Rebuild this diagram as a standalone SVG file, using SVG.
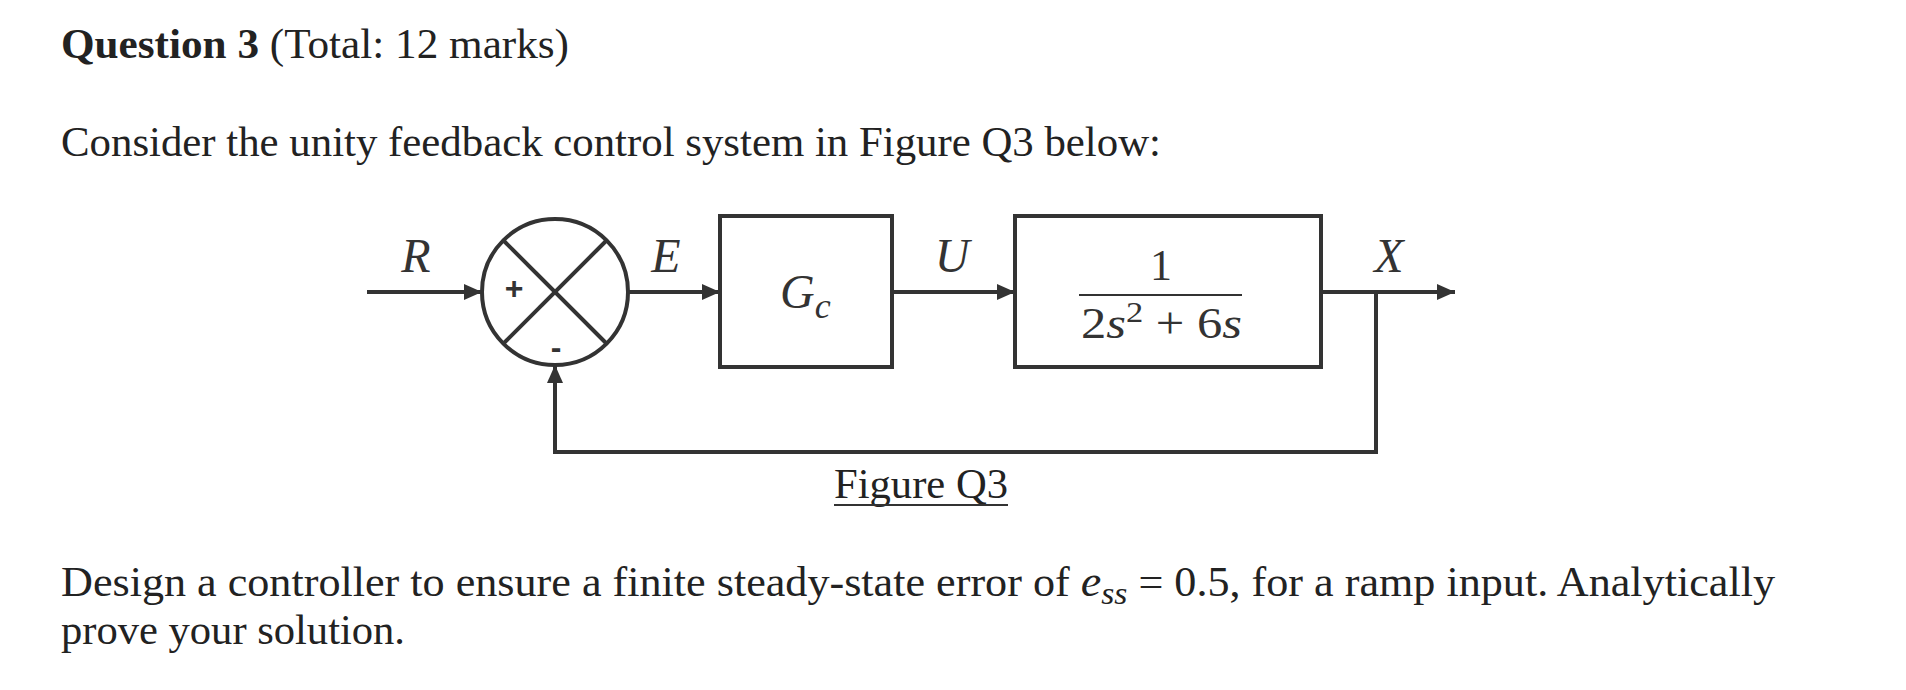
<svg xmlns="http://www.w3.org/2000/svg" width="1906" height="690" viewBox="0 0 1906 690">
<defs>
<style>
.t{font-family:"Liberation Serif",serif;font-size:42px;fill:#222}
.m{font-family:"Liberation Serif",serif;font-style:italic;font-size:48px;fill:#333}
.n{font-family:"Liberation Serif",serif;font-size:44px;fill:#333}
.ln{stroke:#333;stroke-width:4;fill:none}
</style>
<marker id="b" markerWidth="18" markerHeight="16" refX="18" refY="8" orient="auto" markerUnits="userSpaceOnUse"><path d="M0,0L18,8L0,16z" fill="#333"/></marker>
</defs>
<rect width="1906" height="690" fill="#fff"/>
<text class="t" x="61" y="58" textLength="508" lengthAdjust="spacingAndGlyphs"><tspan font-weight="bold">Question 3</tspan> (Total: 12 marks)</text>
<text class="t" x="61" y="156" textLength="1100" lengthAdjust="spacingAndGlyphs">Consider the unity feedback control system in Figure Q3 below:</text>
<g id="sum">
<circle cx="555" cy="292" r="73" class="ln"/>
<line x1="503" y1="240" x2="607" y2="344" class="ln"/>
<line x1="607" y1="240" x2="503" y2="344" class="ln"/>
<text x="514" y="299" font-family="Liberation Sans,sans-serif" font-weight="bold" font-size="32" fill="#333" text-anchor="middle">+</text>
<text x="556" y="358" font-family="Liberation Sans,sans-serif" font-weight="bold" font-size="32" fill="#333" text-anchor="middle">-</text>
</g>
<g id="gc">
<rect x="720" y="216" width="172" height="151" class="ln"/>
<text class="m" x="780" y="308">G<tspan font-size="36" dy="10">c</tspan></text>
</g>
<g id="plant">
<rect x="1015" y="216" width="306" height="151" class="ln"/>
<text class="n" x="1161" y="280" text-anchor="middle">1</text>
<line x1="1079" y1="295" x2="1242" y2="295" stroke="#333" stroke-width="2"/>
<text class="n" x="1081" y="338" textLength="161" lengthAdjust="spacingAndGlyphs">2<tspan font-style="italic">s</tspan><tspan font-size="30" dy="-16">2</tspan><tspan dy="16"> + 6</tspan><tspan font-style="italic">s</tspan></text>
</g>
<g id="connectors">
<line x1="367" y1="292" x2="482" y2="292" class="ln" marker-end="url(#b)"/>
<line x1="628" y1="292" x2="720" y2="292" class="ln" marker-end="url(#b)"/>
<line x1="892" y1="292" x2="1015" y2="292" class="ln" marker-end="url(#b)"/>
<line x1="1321" y1="292" x2="1455" y2="292" class="ln" marker-end="url(#b)"/>
<polyline points="1376,292 1376,452 555,452 555,365" class="ln" marker-end="url(#b)"/>
</g>
<g id="labels">
<text class="m" x="416" y="272" text-anchor="middle">R</text>
<text class="m" x="666" y="272" text-anchor="middle">E</text>
<text class="m" x="952" y="272" text-anchor="middle">U</text>
<text class="m" x="1389" y="272" text-anchor="middle">X</text>
</g>
<text class="t" x="834" y="498" textLength="174" lengthAdjust="spacingAndGlyphs">Figure Q3</text>
<line x1="834" y1="505" x2="1008" y2="505" stroke="#333" stroke-width="2"/>
<text class="t" x="61" y="596" textLength="1714" lengthAdjust="spacingAndGlyphs">Design a controller to ensure a finite steady-state error of <tspan font-style="italic" font-size="44">e<tspan font-size="32" dy="8">ss</tspan></tspan><tspan dy="-8"> = 0.5, for a ramp input. Analytically</tspan></text>
<text class="t" x="61" y="644" textLength="344" lengthAdjust="spacingAndGlyphs">prove your solution.</text>
</svg>
